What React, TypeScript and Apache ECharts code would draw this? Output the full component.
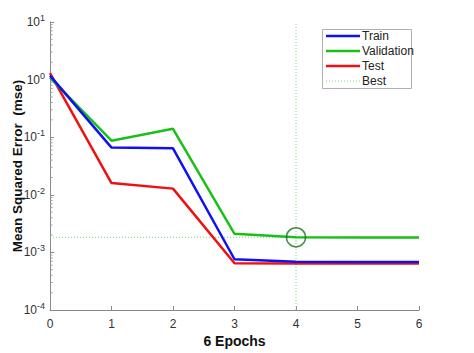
import React, { useEffect, useRef } from "react";
import * as echarts from "echarts";

const epochs = [0, 1, 2, 3, 4, 5, 6];
const trainValues = [1.17, 0.066, 0.064, 0.00076, 0.00069, 0.00068, 0.00068];
const validationValues = [1.08, 0.087, 0.14, 0.0021, 0.00183, 0.00182, 0.00182];
const testValues = [1.3, 0.016, 0.0128, 0.00065, 0.00064, 0.00064, 0.00064];
const bestEpoch = 4;
const bestValue = 0.00183;
const legendNames = ["Train", "Validation", "Test", "Best"];
const minorTickValues: number[] = [];
for (let k = -4; k < 1; k++) {
  for (let m = 2; m <= 9; m++) minorTickValues.push(m * Math.pow(10, k));
}

const FONT = "Liberation Sans, Arial, sans-serif";
const BLUE = "#1010f0";
const GREEN = "#18c018";
const RED = "#f01010";
const BEST = "#7fd07f";

export default function App() {
  const ref = useRef<HTMLDivElement>(null);
  useEffect(() => {
    const chart = echarts.init(ref.current!, undefined, { renderer: "svg" });
    const pair = (vals: number[]) => epochs.map((e, i) => [e, vals[i]]);
    const legendColors = [BLUE, GREEN, RED, BEST];
    const legendItems: any[] = [];
    legendNames.forEach((n, i) => {
      const y = 36 + i * 15;
      legendItems.push({
        type: "line",
        shape: { x1: 326, y1: y, x2: 360, y2: y },
        style: {
          stroke: legendColors[i],
          lineWidth: i === 3 ? 1 : 2.5,
          lineDash: i === 3 ? [1, 2] : null,
        },
      });
      legendItems.push({
        type: "text",
        x: 362,
        y: y,
        style: { text: n, fontFamily: FONT, fontSize: 12, fill: "#222", verticalAlign: "middle", align: "left" },
      });
    });
    chart.setOption({
      animation: false,
      backgroundColor: "#ffffff",
      textStyle: { fontFamily: FONT },
      grid: { left: 50, right: 55, top: 22, bottom: 43, containLabel: false, outerBoundsMode: "none" },
      graphic: [
        {
          type: "rect",
          shape: { x: 322.5, y: 29.5, width: 89, height: 59 },
          style: { fill: "#ffffff", stroke: "#b0b0b0", lineWidth: 1 },
          z: 100,
        },
        ...legendItems.map((it) => ({ ...it, z: 101 })),
      ],
      xAxis: {
        type: "value",
        min: 0,
        max: 6,
        interval: 1,
        name: "6 Epochs",
        nameLocation: "middle",
        nameGap: 24,
        nameMoveOverlap: false,
        nameTextStyle: { fontFamily: FONT, fontSize: 14, fontWeight: "bold", color: "#111" },
        axisLine: { lineStyle: { color: "#8a8a8a" } },
        axisTick: { inside: true, length: 4, lineStyle: { color: "#8a8a8a" } },
        axisLabel: { fontFamily: FONT, fontSize: 12, color: "#333", margin: 8 },
        splitLine: { show: false },
      },
      yAxis: {
        type: "log",
        logBase: 10,
        min: 1e-4,
        max: 10,
        name: "Mean Squared Error  (mse)",
        nameLocation: "middle",
        nameGap: 26,
        nameMoveOverlap: false,
        nameTextStyle: { fontFamily: FONT, fontSize: 13.5, fontWeight: "bold", color: "#111" },
        axisLine: { lineStyle: { color: "#8a8a8a" } },
        axisTick: { inside: true, length: 4, lineStyle: { color: "#8a8a8a" } },
        axisLabel: {
          fontFamily: FONT,
          fontSize: 12,
          color: "#333",
          margin: 5,
          formatter: (v: number) => "10{sup|" + Math.round(Math.log10(v)) + "}",
          rich: { sup: { fontSize: 9, verticalAlign: "top", padding: [0, 0, 8, 0], color: "#333", fontFamily: FONT } },
        },
        splitLine: { show: false },
      },
      series: [
        {
          name: "Best",
          type: "line",
          data: [[bestEpoch, 1e-4], [bestEpoch, 10], "-", [0, bestValue], [6, bestValue]],
          symbol: "none",
          connectNulls: false,
          lineStyle: { width: 1, type: [1, 2], color: BEST },
          z: 1,
        },
        {
          name: "Test",
          type: "line",
          data: pair(testValues),
          symbol: "none",
          lineStyle: { width: 2.5, color: RED },
          z: 2,
        },
        {
          name: "Validation",
          type: "line",
          data: pair(validationValues),
          symbol: "none",
          lineStyle: { width: 2.5, color: GREEN },
          z: 3,
        },
        {
          name: "Train",
          type: "line",
          data: pair(trainValues),
          symbol: "none",
          lineStyle: { width: 2.5, color: BLUE },
          z: 4,
        },
        {
          name: "BestCircle",
          type: "scatter",
          data: [[bestEpoch, bestValue]],
          symbol: "circle",
          symbolSize: 19,
          itemStyle: { color: "rgba(0,0,0,0)", borderColor: "#1a6e1a", borderWidth: 1.6 },
          z: 6,
        },
        {
          name: "minorTicks",
          type: "custom",
          silent: true,
          data: minorTickValues.map((v) => [0, v]),
          renderItem: (params: any, api: any) => {
            const p = api.coord([0, api.value(1)]);
            return {
              type: "line",
              shape: { x1: p[0], y1: p[1], x2: p[0] + 2.5, y2: p[1] },
              style: { stroke: "#9a9a9a", lineWidth: 1 },
            };
          },
          z: 1,
        },
      ],
    });
    return () => chart.dispose();
  }, []);
  return <div ref={ref} style={{ width: 474, height: 353, position: "absolute", left: 0, top: 0 }} />;
}
